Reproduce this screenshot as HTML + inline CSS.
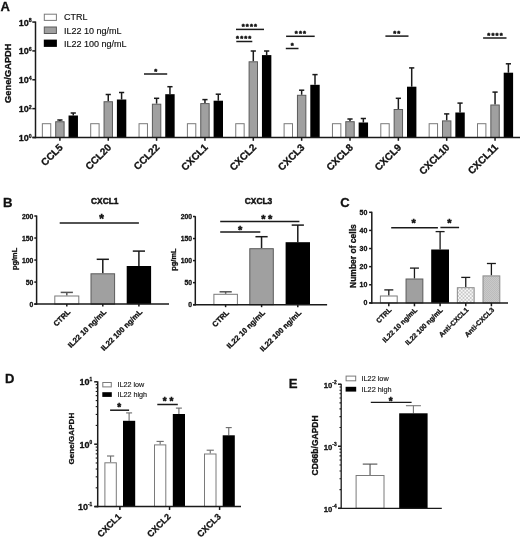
<!DOCTYPE html>
<html><head><meta charset="utf-8"><title>Figure</title>
<style>
html,body{margin:0;padding:0;background:#fff;width:520px;height:540px;overflow:hidden}
svg{display:block}
text{font-family:"Liberation Sans",Arial,sans-serif}
</style></head><body>
<svg width="520" height="540" viewBox="0 0 520 540">
<defs>
<pattern id="chk" width="3.6" height="3.6" patternUnits="userSpaceOnUse">
<rect width="3.6" height="3.6" fill="#f8f8f8"/><rect width="1.8" height="1.8" fill="#c8c8c8"/><rect x="1.8" y="1.8" width="1.8" height="1.8" fill="#c8c8c8"/>
</pattern>
<pattern id="lg" width="2" height="2" patternUnits="userSpaceOnUse">
<rect width="2" height="2" fill="#c9c9c9"/><rect width="1" height="1" fill="#bcbcbc"/><rect x="1" y="1" width="1" height="1" fill="#bcbcbc"/>
</pattern>
</defs>
<rect width="520" height="540" fill="#fff"/>
<text x="0.60" y="11.20" font-size="13" font-weight="bold" text-anchor="start" fill="#111" stroke="#111" stroke-width="0.3">A</text>
<line x1="32.30" y1="137.50" x2="35.50" y2="137.50" stroke="#1a1a1a" stroke-width="1.5"/>
<text x="31.60" y="141.00" font-size="9" font-weight="bold" text-anchor="end" fill="#111" stroke="#111" stroke-width="0.3">10<tspan font-size="5.2" dy="-3.4">0</tspan></text>
<line x1="32.30" y1="108.64" x2="35.50" y2="108.64" stroke="#1a1a1a" stroke-width="1.5"/>
<text x="31.60" y="112.14" font-size="9" font-weight="bold" text-anchor="end" fill="#111" stroke="#111" stroke-width="0.3">10<tspan font-size="5.2" dy="-3.4">2</tspan></text>
<line x1="32.30" y1="79.78" x2="35.50" y2="79.78" stroke="#1a1a1a" stroke-width="1.5"/>
<text x="31.60" y="83.28" font-size="9" font-weight="bold" text-anchor="end" fill="#111" stroke="#111" stroke-width="0.3">10<tspan font-size="5.2" dy="-3.4">4</tspan></text>
<line x1="32.30" y1="50.92" x2="35.50" y2="50.92" stroke="#1a1a1a" stroke-width="1.5"/>
<text x="31.60" y="54.42" font-size="9" font-weight="bold" text-anchor="end" fill="#111" stroke="#111" stroke-width="0.3">10<tspan font-size="5.2" dy="-3.4">6</tspan></text>
<line x1="32.30" y1="22.06" x2="35.50" y2="22.06" stroke="#1a1a1a" stroke-width="1.5"/>
<text x="31.60" y="25.56" font-size="9" font-weight="bold" text-anchor="end" fill="#111" stroke="#111" stroke-width="0.3">10<tspan font-size="5.2" dy="-3.4">8</tspan></text>
<text x="10.90" y="73.20" font-size="9.3" font-weight="bold" text-anchor="middle" fill="#111" stroke="#111" stroke-width="0.3" transform="rotate(-90 10.90 73.20)">Gene/GAPDH</text>
<rect x="44.30" y="14.20" width="12.10" height="6.20" fill="#fff" stroke="#7a7a7a" stroke-width="1"/>
<rect x="44.30" y="27.00" width="12.10" height="6.50" fill="#a0a0a0" stroke="#5a5a5a" stroke-width="1"/>
<rect x="43.80" y="39.60" width="13.10" height="7.30" fill="#000"/>
<text x="64.00" y="20.40" font-size="9" font-weight="normal" text-anchor="start" fill="#111" stroke="#111" stroke-width="0.15">CTRL</text>
<text x="64.00" y="33.50" font-size="9" font-weight="normal" text-anchor="start" fill="#111" stroke="#111" stroke-width="0.15">IL22 10 ng/mL</text>
<text x="64.00" y="46.60" font-size="9" font-weight="normal" text-anchor="start" fill="#111" stroke="#111" stroke-width="0.15">IL22 100 ng/mL</text>
<rect x="42.35" y="123.70" width="8.40" height="13.80" fill="#fff" stroke="#7a7a7a" stroke-width="1"/>
<line x1="59.90" y1="121.25" x2="59.90" y2="120.00" stroke="#1a1a1a" stroke-width="1.5"/>
<line x1="57.30" y1="120.00" x2="62.50" y2="120.00" stroke="#1a1a1a" stroke-width="1.5"/>
<rect x="55.70" y="121.75" width="8.40" height="15.75" fill="#a0a0a0" stroke="#5a5a5a" stroke-width="1"/>
<line x1="73.25" y1="115.50" x2="73.25" y2="113.00" stroke="#1a1a1a" stroke-width="1.5"/>
<line x1="70.65" y1="113.00" x2="75.85" y2="113.00" stroke="#1a1a1a" stroke-width="1.5"/>
<rect x="68.55" y="115.50" width="9.40" height="22.00" fill="#000"/>
<line x1="59.90" y1="137.50" x2="59.90" y2="140.80" stroke="#1a1a1a" stroke-width="1.5"/>
<text x="63.50" y="148.00" font-size="10" font-weight="bold" text-anchor="end" fill="#111" stroke="#111" stroke-width="0.3" transform="rotate(-45 63.50 148.00)">CCL5</text>
<rect x="90.70" y="123.70" width="8.40" height="13.80" fill="#fff" stroke="#7a7a7a" stroke-width="1"/>
<line x1="108.25" y1="101.25" x2="108.25" y2="94.50" stroke="#1a1a1a" stroke-width="1.5"/>
<line x1="105.65" y1="94.50" x2="110.85" y2="94.50" stroke="#1a1a1a" stroke-width="1.5"/>
<rect x="104.05" y="101.75" width="8.40" height="35.75" fill="#a0a0a0" stroke="#5a5a5a" stroke-width="1"/>
<line x1="121.60" y1="99.50" x2="121.60" y2="92.50" stroke="#1a1a1a" stroke-width="1.5"/>
<line x1="119.00" y1="92.50" x2="124.20" y2="92.50" stroke="#1a1a1a" stroke-width="1.5"/>
<rect x="116.90" y="99.50" width="9.40" height="38.00" fill="#000"/>
<line x1="108.25" y1="137.50" x2="108.25" y2="140.80" stroke="#1a1a1a" stroke-width="1.5"/>
<text x="111.85" y="148.00" font-size="10" font-weight="bold" text-anchor="end" fill="#111" stroke="#111" stroke-width="0.3" transform="rotate(-45 111.85 148.00)">CCL20</text>
<rect x="139.05" y="123.70" width="8.40" height="13.80" fill="#fff" stroke="#7a7a7a" stroke-width="1"/>
<line x1="156.60" y1="103.70" x2="156.60" y2="98.30" stroke="#1a1a1a" stroke-width="1.5"/>
<line x1="154.00" y1="98.30" x2="159.20" y2="98.30" stroke="#1a1a1a" stroke-width="1.5"/>
<rect x="152.40" y="104.20" width="8.40" height="33.30" fill="#a0a0a0" stroke="#5a5a5a" stroke-width="1"/>
<line x1="169.95" y1="94.20" x2="169.95" y2="86.70" stroke="#1a1a1a" stroke-width="1.5"/>
<line x1="167.35" y1="86.70" x2="172.55" y2="86.70" stroke="#1a1a1a" stroke-width="1.5"/>
<rect x="165.25" y="94.20" width="9.40" height="43.30" fill="#000"/>
<line x1="156.60" y1="137.50" x2="156.60" y2="140.80" stroke="#1a1a1a" stroke-width="1.5"/>
<text x="160.20" y="148.00" font-size="10" font-weight="bold" text-anchor="end" fill="#111" stroke="#111" stroke-width="0.3" transform="rotate(-45 160.20 148.00)">CCL22</text>
<rect x="187.40" y="123.70" width="8.40" height="13.80" fill="#fff" stroke="#7a7a7a" stroke-width="1"/>
<line x1="204.95" y1="103.10" x2="204.95" y2="99.60" stroke="#1a1a1a" stroke-width="1.5"/>
<line x1="202.35" y1="99.60" x2="207.55" y2="99.60" stroke="#1a1a1a" stroke-width="1.5"/>
<rect x="200.75" y="103.60" width="8.40" height="33.90" fill="#a0a0a0" stroke="#5a5a5a" stroke-width="1"/>
<line x1="218.30" y1="100.70" x2="218.30" y2="94.20" stroke="#1a1a1a" stroke-width="1.5"/>
<line x1="215.70" y1="94.20" x2="220.90" y2="94.20" stroke="#1a1a1a" stroke-width="1.5"/>
<rect x="213.60" y="100.70" width="9.40" height="36.80" fill="#000"/>
<line x1="204.95" y1="137.50" x2="204.95" y2="140.80" stroke="#1a1a1a" stroke-width="1.5"/>
<text x="208.55" y="148.00" font-size="10" font-weight="bold" text-anchor="end" fill="#111" stroke="#111" stroke-width="0.3" transform="rotate(-45 208.55 148.00)">CXCL1</text>
<rect x="235.75" y="123.70" width="8.40" height="13.80" fill="#fff" stroke="#7a7a7a" stroke-width="1"/>
<line x1="253.30" y1="61.30" x2="253.30" y2="51.00" stroke="#1a1a1a" stroke-width="1.5"/>
<line x1="250.70" y1="51.00" x2="255.90" y2="51.00" stroke="#1a1a1a" stroke-width="1.5"/>
<rect x="249.10" y="61.80" width="8.40" height="75.70" fill="#a0a0a0" stroke="#5a5a5a" stroke-width="1"/>
<line x1="266.65" y1="55.10" x2="266.65" y2="51.00" stroke="#1a1a1a" stroke-width="1.5"/>
<line x1="264.05" y1="51.00" x2="269.25" y2="51.00" stroke="#1a1a1a" stroke-width="1.5"/>
<rect x="261.95" y="55.10" width="9.40" height="82.40" fill="#000"/>
<line x1="253.30" y1="137.50" x2="253.30" y2="140.80" stroke="#1a1a1a" stroke-width="1.5"/>
<text x="256.90" y="148.00" font-size="10" font-weight="bold" text-anchor="end" fill="#111" stroke="#111" stroke-width="0.3" transform="rotate(-45 256.90 148.00)">CXCL2</text>
<rect x="284.10" y="123.70" width="8.40" height="13.80" fill="#fff" stroke="#7a7a7a" stroke-width="1"/>
<line x1="301.65" y1="94.80" x2="301.65" y2="90.20" stroke="#1a1a1a" stroke-width="1.5"/>
<line x1="299.05" y1="90.20" x2="304.25" y2="90.20" stroke="#1a1a1a" stroke-width="1.5"/>
<rect x="297.45" y="95.30" width="8.40" height="42.20" fill="#a0a0a0" stroke="#5a5a5a" stroke-width="1"/>
<line x1="315.00" y1="84.80" x2="315.00" y2="74.60" stroke="#1a1a1a" stroke-width="1.5"/>
<line x1="312.40" y1="74.60" x2="317.60" y2="74.60" stroke="#1a1a1a" stroke-width="1.5"/>
<rect x="310.30" y="84.80" width="9.40" height="52.70" fill="#000"/>
<line x1="301.65" y1="137.50" x2="301.65" y2="140.80" stroke="#1a1a1a" stroke-width="1.5"/>
<text x="305.25" y="148.00" font-size="10" font-weight="bold" text-anchor="end" fill="#111" stroke="#111" stroke-width="0.3" transform="rotate(-45 305.25 148.00)">CXCL3</text>
<rect x="332.45" y="123.70" width="8.40" height="13.80" fill="#fff" stroke="#7a7a7a" stroke-width="1"/>
<line x1="350.00" y1="121.20" x2="350.00" y2="119.00" stroke="#1a1a1a" stroke-width="1.5"/>
<line x1="347.40" y1="119.00" x2="352.60" y2="119.00" stroke="#1a1a1a" stroke-width="1.5"/>
<rect x="345.80" y="121.70" width="8.40" height="15.80" fill="#a0a0a0" stroke="#5a5a5a" stroke-width="1"/>
<line x1="363.35" y1="122.50" x2="363.35" y2="118.50" stroke="#1a1a1a" stroke-width="1.5"/>
<line x1="360.75" y1="118.50" x2="365.95" y2="118.50" stroke="#1a1a1a" stroke-width="1.5"/>
<rect x="358.65" y="122.50" width="9.40" height="15.00" fill="#000"/>
<line x1="350.00" y1="137.50" x2="350.00" y2="140.80" stroke="#1a1a1a" stroke-width="1.5"/>
<text x="353.60" y="148.00" font-size="10" font-weight="bold" text-anchor="end" fill="#111" stroke="#111" stroke-width="0.3" transform="rotate(-45 353.60 148.00)">CXCL8</text>
<rect x="380.80" y="123.70" width="8.40" height="13.80" fill="#fff" stroke="#7a7a7a" stroke-width="1"/>
<line x1="398.35" y1="109.00" x2="398.35" y2="98.30" stroke="#1a1a1a" stroke-width="1.5"/>
<line x1="395.75" y1="98.30" x2="400.95" y2="98.30" stroke="#1a1a1a" stroke-width="1.5"/>
<rect x="394.15" y="109.50" width="8.40" height="28.00" fill="#a0a0a0" stroke="#5a5a5a" stroke-width="1"/>
<line x1="411.70" y1="86.70" x2="411.70" y2="67.90" stroke="#1a1a1a" stroke-width="1.5"/>
<line x1="409.10" y1="67.90" x2="414.30" y2="67.90" stroke="#1a1a1a" stroke-width="1.5"/>
<rect x="407.00" y="86.70" width="9.40" height="50.80" fill="#000"/>
<line x1="398.35" y1="137.50" x2="398.35" y2="140.80" stroke="#1a1a1a" stroke-width="1.5"/>
<text x="401.95" y="148.00" font-size="10" font-weight="bold" text-anchor="end" fill="#111" stroke="#111" stroke-width="0.3" transform="rotate(-45 401.95 148.00)">CXCL9</text>
<rect x="429.15" y="123.70" width="8.40" height="13.80" fill="#fff" stroke="#7a7a7a" stroke-width="1"/>
<line x1="446.70" y1="120.40" x2="446.70" y2="113.90" stroke="#1a1a1a" stroke-width="1.5"/>
<line x1="444.10" y1="113.90" x2="449.30" y2="113.90" stroke="#1a1a1a" stroke-width="1.5"/>
<rect x="442.50" y="120.90" width="8.40" height="16.60" fill="#a0a0a0" stroke="#5a5a5a" stroke-width="1"/>
<line x1="460.05" y1="112.50" x2="460.05" y2="103.10" stroke="#1a1a1a" stroke-width="1.5"/>
<line x1="457.45" y1="103.10" x2="462.65" y2="103.10" stroke="#1a1a1a" stroke-width="1.5"/>
<rect x="455.35" y="112.50" width="9.40" height="25.00" fill="#000"/>
<line x1="446.70" y1="137.50" x2="446.70" y2="140.80" stroke="#1a1a1a" stroke-width="1.5"/>
<text x="450.30" y="148.00" font-size="10" font-weight="bold" text-anchor="end" fill="#111" stroke="#111" stroke-width="0.3" transform="rotate(-45 450.30 148.00)">CXCL10</text>
<rect x="477.50" y="123.70" width="8.40" height="13.80" fill="#fff" stroke="#7a7a7a" stroke-width="1"/>
<line x1="495.05" y1="104.50" x2="495.05" y2="92.10" stroke="#1a1a1a" stroke-width="1.5"/>
<line x1="492.45" y1="92.10" x2="497.65" y2="92.10" stroke="#1a1a1a" stroke-width="1.5"/>
<rect x="490.85" y="105.00" width="8.40" height="32.50" fill="#a0a0a0" stroke="#5a5a5a" stroke-width="1"/>
<line x1="508.40" y1="72.70" x2="508.40" y2="63.80" stroke="#1a1a1a" stroke-width="1.5"/>
<line x1="505.80" y1="63.80" x2="511.00" y2="63.80" stroke="#1a1a1a" stroke-width="1.5"/>
<rect x="503.70" y="72.70" width="9.40" height="64.80" fill="#000"/>
<line x1="495.05" y1="137.50" x2="495.05" y2="140.80" stroke="#1a1a1a" stroke-width="1.5"/>
<text x="498.65" y="148.00" font-size="10" font-weight="bold" text-anchor="end" fill="#111" stroke="#111" stroke-width="0.3" transform="rotate(-45 498.65 148.00)">CXCL11</text>
<line x1="144.00" y1="74.00" x2="167.20" y2="74.00" stroke="#1a1a1a" stroke-width="1.5"/>
<text x="156.38" y="73.82" font-size="7.6" font-weight="bold" text-anchor="middle" fill="#111" stroke="#111" stroke-width="0.5" letter-spacing="1.15">*</text>
<line x1="236.00" y1="29.40" x2="264.00" y2="29.40" stroke="#1a1a1a" stroke-width="1.5"/>
<text x="249.97" y="28.82" font-size="7.6" font-weight="bold" text-anchor="middle" fill="#111" stroke="#111" stroke-width="0.5" letter-spacing="1.15">****</text>
<line x1="236.30" y1="41.50" x2="252.30" y2="41.50" stroke="#1a1a1a" stroke-width="1.5"/>
<text x="244.27" y="40.82" font-size="7.6" font-weight="bold" text-anchor="middle" fill="#111" stroke="#111" stroke-width="0.5" letter-spacing="1.15">****</text>
<line x1="286.10" y1="36.30" x2="314.70" y2="36.30" stroke="#1a1a1a" stroke-width="1.5"/>
<text x="300.97" y="36.12" font-size="7.6" font-weight="bold" text-anchor="middle" fill="#111" stroke="#111" stroke-width="0.5" letter-spacing="1.15">***</text>
<line x1="285.80" y1="48.50" x2="298.50" y2="48.50" stroke="#1a1a1a" stroke-width="1.5"/>
<text x="292.88" y="47.62" font-size="7.6" font-weight="bold" text-anchor="middle" fill="#111" stroke="#111" stroke-width="0.5" letter-spacing="1.15">*</text>
<line x1="385.40" y1="36.10" x2="408.50" y2="36.10" stroke="#1a1a1a" stroke-width="1.5"/>
<text x="397.27" y="35.62" font-size="7.6" font-weight="bold" text-anchor="middle" fill="#111" stroke="#111" stroke-width="0.5" letter-spacing="1.15">**</text>
<line x1="483.10" y1="38.00" x2="506.50" y2="38.00" stroke="#1a1a1a" stroke-width="1.5"/>
<text x="495.57" y="38.32" font-size="7.6" font-weight="bold" text-anchor="middle" fill="#111" stroke="#111" stroke-width="0.5" letter-spacing="1.15">****</text>
<text x="3.00" y="206.60" font-size="13.2" font-weight="bold" text-anchor="start" fill="#111" stroke="#111" stroke-width="0.3">B</text>
<line x1="34.30" y1="304.10" x2="36.60" y2="304.10" stroke="#1a1a1a" stroke-width="1.5"/>
<text x="33.30" y="306.60" font-size="6.8" font-weight="bold" text-anchor="end" fill="#111" stroke="#111" stroke-width="0.3">0</text>
<line x1="34.30" y1="282.08" x2="36.60" y2="282.08" stroke="#1a1a1a" stroke-width="1.5"/>
<text x="33.30" y="284.58" font-size="6.8" font-weight="bold" text-anchor="end" fill="#111" stroke="#111" stroke-width="0.3">50</text>
<line x1="34.30" y1="260.05" x2="36.60" y2="260.05" stroke="#1a1a1a" stroke-width="1.5"/>
<text x="33.30" y="262.55" font-size="6.8" font-weight="bold" text-anchor="end" fill="#111" stroke="#111" stroke-width="0.3">100</text>
<line x1="34.30" y1="238.03" x2="36.60" y2="238.03" stroke="#1a1a1a" stroke-width="1.5"/>
<text x="33.30" y="240.53" font-size="6.8" font-weight="bold" text-anchor="end" fill="#111" stroke="#111" stroke-width="0.3">150</text>
<line x1="34.30" y1="216.00" x2="36.60" y2="216.00" stroke="#1a1a1a" stroke-width="1.5"/>
<text x="33.30" y="218.50" font-size="6.8" font-weight="bold" text-anchor="end" fill="#111" stroke="#111" stroke-width="0.3">200</text>
<text x="104.80" y="203.90" font-size="8.4" font-weight="bold" text-anchor="middle" fill="#111" stroke="#111" stroke-width="0.45">CXCL1</text>
<line x1="66.80" y1="295.50" x2="66.80" y2="292.40" stroke="#555" stroke-width="1.5"/>
<line x1="60.70" y1="292.40" x2="72.90" y2="292.40" stroke="#555" stroke-width="1.5"/>
<rect x="54.80" y="296.00" width="24.00" height="8.10" fill="#fff" stroke="#7a7a7a" stroke-width="1"/>
<line x1="102.80" y1="273.30" x2="102.80" y2="259.30" stroke="#1a1a1a" stroke-width="1.5"/>
<line x1="96.70" y1="259.30" x2="108.90" y2="259.30" stroke="#1a1a1a" stroke-width="1.5"/>
<rect x="91.00" y="273.80" width="23.60" height="30.30" fill="#a0a0a0" stroke="#5a5a5a" stroke-width="1"/>
<line x1="138.90" y1="266.00" x2="138.90" y2="251.10" stroke="#1a1a1a" stroke-width="1.5"/>
<line x1="132.80" y1="251.10" x2="145.00" y2="251.10" stroke="#1a1a1a" stroke-width="1.5"/>
<rect x="126.70" y="266.00" width="24.40" height="38.10" fill="#000"/>
<line x1="66.80" y1="304.10" x2="66.80" y2="306.60" stroke="#1a1a1a" stroke-width="1.5"/>
<text x="70.80" y="312.50" font-size="7.6" font-weight="bold" text-anchor="end" fill="#111" stroke="#111" stroke-width="0.3" transform="rotate(-45 70.80 312.50)">CTRL</text>
<line x1="102.80" y1="304.10" x2="102.80" y2="306.60" stroke="#1a1a1a" stroke-width="1.5"/>
<text x="106.80" y="312.50" font-size="7.6" font-weight="bold" text-anchor="end" fill="#111" stroke="#111" stroke-width="0.3" transform="rotate(-45 106.80 312.50)">IL22 10 ng/mL</text>
<line x1="138.90" y1="304.10" x2="138.90" y2="306.60" stroke="#1a1a1a" stroke-width="1.5"/>
<text x="142.90" y="312.50" font-size="7.6" font-weight="bold" text-anchor="end" fill="#111" stroke="#111" stroke-width="0.3" transform="rotate(-45 142.90 312.50)">IL22 100 ng/mL</text>
<text transform="translate(16.6 258.9) rotate(-90) scale(1 0.92)" font-size="7.4" font-weight="bold" text-anchor="middle" fill="#111" stroke="#111" stroke-width="0.3">pg/mL</text>
<line x1="59.70" y1="223.00" x2="138.90" y2="223.00" stroke="#1a1a1a" stroke-width="1.5"/>
<text x="101.50" y="223.42" font-size="12" font-weight="bold" text-anchor="middle" fill="#111" stroke="#111" stroke-width="0.5">*</text>
<line x1="193.00" y1="304.70" x2="195.30" y2="304.70" stroke="#1a1a1a" stroke-width="1.5"/>
<text x="192.00" y="307.20" font-size="6.8" font-weight="bold" text-anchor="end" fill="#111" stroke="#111" stroke-width="0.3">0</text>
<line x1="193.00" y1="282.65" x2="195.30" y2="282.65" stroke="#1a1a1a" stroke-width="1.5"/>
<text x="192.00" y="285.15" font-size="6.8" font-weight="bold" text-anchor="end" fill="#111" stroke="#111" stroke-width="0.3">50</text>
<line x1="193.00" y1="260.60" x2="195.30" y2="260.60" stroke="#1a1a1a" stroke-width="1.5"/>
<text x="192.00" y="263.10" font-size="6.8" font-weight="bold" text-anchor="end" fill="#111" stroke="#111" stroke-width="0.3">100</text>
<line x1="193.00" y1="238.55" x2="195.30" y2="238.55" stroke="#1a1a1a" stroke-width="1.5"/>
<text x="192.00" y="241.05" font-size="6.8" font-weight="bold" text-anchor="end" fill="#111" stroke="#111" stroke-width="0.3">150</text>
<line x1="193.00" y1="216.50" x2="195.30" y2="216.50" stroke="#1a1a1a" stroke-width="1.5"/>
<text x="192.00" y="219.00" font-size="6.8" font-weight="bold" text-anchor="end" fill="#111" stroke="#111" stroke-width="0.3">200</text>
<text x="258.50" y="203.90" font-size="8.4" font-weight="bold" text-anchor="middle" fill="#111" stroke="#111" stroke-width="0.45">CXCL3</text>
<line x1="225.65" y1="293.80" x2="225.65" y2="291.80" stroke="#555" stroke-width="1.5"/>
<line x1="219.55" y1="291.80" x2="231.75" y2="291.80" stroke="#555" stroke-width="1.5"/>
<rect x="213.90" y="294.30" width="23.50" height="10.40" fill="#fff" stroke="#7a7a7a" stroke-width="1"/>
<line x1="261.55" y1="248.20" x2="261.55" y2="236.70" stroke="#1a1a1a" stroke-width="1.5"/>
<line x1="255.45" y1="236.70" x2="267.65" y2="236.70" stroke="#1a1a1a" stroke-width="1.5"/>
<rect x="249.80" y="248.70" width="23.50" height="56.00" fill="#a0a0a0" stroke="#5a5a5a" stroke-width="1"/>
<line x1="297.80" y1="242.20" x2="297.80" y2="225.10" stroke="#1a1a1a" stroke-width="1.5"/>
<line x1="291.70" y1="225.10" x2="303.90" y2="225.10" stroke="#1a1a1a" stroke-width="1.5"/>
<rect x="285.60" y="242.20" width="24.40" height="62.50" fill="#000"/>
<line x1="225.60" y1="304.70" x2="225.60" y2="307.20" stroke="#1a1a1a" stroke-width="1.5"/>
<text x="229.60" y="313.10" font-size="7.6" font-weight="bold" text-anchor="end" fill="#111" stroke="#111" stroke-width="0.3" transform="rotate(-45 229.60 313.10)">CTRL</text>
<line x1="261.60" y1="304.70" x2="261.60" y2="307.20" stroke="#1a1a1a" stroke-width="1.5"/>
<text x="265.60" y="313.10" font-size="7.6" font-weight="bold" text-anchor="end" fill="#111" stroke="#111" stroke-width="0.3" transform="rotate(-45 265.60 313.10)">IL22 10 ng/mL</text>
<line x1="297.80" y1="304.70" x2="297.80" y2="307.20" stroke="#1a1a1a" stroke-width="1.5"/>
<text x="301.80" y="313.10" font-size="7.6" font-weight="bold" text-anchor="end" fill="#111" stroke="#111" stroke-width="0.3" transform="rotate(-45 301.80 313.10)">IL22 100 ng/mL</text>
<text transform="translate(176.3 259.6) rotate(-90) scale(1 0.92)" font-size="7.4" font-weight="bold" text-anchor="middle" fill="#111" stroke="#111" stroke-width="0.3">pg/mL</text>
<line x1="220.20" y1="221.60" x2="299.40" y2="221.60" stroke="#1a1a1a" stroke-width="1.5"/>
<text x="267.90" y="223.02" font-size="11" font-weight="bold" text-anchor="middle" fill="#111" stroke="#111" stroke-width="0.5" letter-spacing="2.4">**</text>
<line x1="220.20" y1="231.90" x2="260.30" y2="231.90" stroke="#1a1a1a" stroke-width="1.5"/>
<text x="240.10" y="234.22" font-size="11" font-weight="bold" text-anchor="middle" fill="#111" stroke="#111" stroke-width="0.5">*</text>
<text x="340.30" y="206.80" font-size="13" font-weight="bold" text-anchor="start" fill="#111" stroke="#111" stroke-width="0.3">C</text>
<line x1="369.10" y1="302.90" x2="371.80" y2="302.90" stroke="#1a1a1a" stroke-width="1.5"/>
<text x="367.30" y="305.40" font-size="7.0" font-weight="bold" text-anchor="end" fill="#111" stroke="#111" stroke-width="0.3">0</text>
<line x1="369.10" y1="284.78" x2="371.80" y2="284.78" stroke="#1a1a1a" stroke-width="1.5"/>
<text x="367.30" y="287.28" font-size="7.0" font-weight="bold" text-anchor="end" fill="#111" stroke="#111" stroke-width="0.3">10</text>
<line x1="369.10" y1="266.66" x2="371.80" y2="266.66" stroke="#1a1a1a" stroke-width="1.5"/>
<text x="367.30" y="269.16" font-size="7.0" font-weight="bold" text-anchor="end" fill="#111" stroke="#111" stroke-width="0.3">20</text>
<line x1="369.10" y1="248.54" x2="371.80" y2="248.54" stroke="#1a1a1a" stroke-width="1.5"/>
<text x="367.30" y="251.04" font-size="7.0" font-weight="bold" text-anchor="end" fill="#111" stroke="#111" stroke-width="0.3">30</text>
<line x1="369.10" y1="230.42" x2="371.80" y2="230.42" stroke="#1a1a1a" stroke-width="1.5"/>
<text x="367.30" y="232.92" font-size="7.0" font-weight="bold" text-anchor="end" fill="#111" stroke="#111" stroke-width="0.3">40</text>
<line x1="369.10" y1="212.30" x2="371.80" y2="212.30" stroke="#1a1a1a" stroke-width="1.5"/>
<text x="367.30" y="214.80" font-size="7.0" font-weight="bold" text-anchor="end" fill="#111" stroke="#111" stroke-width="0.3">50</text>
<text x="355.80" y="256.10" font-size="8.5" font-weight="bold" text-anchor="middle" fill="#111" stroke="#111" stroke-width="0.3" transform="rotate(-90 355.80 256.10)">Number of cells</text>
<line x1="388.80" y1="295.50" x2="388.80" y2="289.90" stroke="#1a1a1a" stroke-width="1.3"/>
<line x1="384.30" y1="289.90" x2="393.30" y2="289.90" stroke="#1a1a1a" stroke-width="1.3"/>
<rect x="380.40" y="296.00" width="16.80" height="6.90" fill="#fff" stroke="#7a7a7a" stroke-width="1"/>
<line x1="388.80" y1="302.90" x2="388.80" y2="306.30" stroke="#1a1a1a" stroke-width="1.5"/>
<text x="392.00" y="310.40" font-size="6.9" font-weight="bold" text-anchor="end" fill="#111" stroke="#111" stroke-width="0.3" transform="rotate(-45 392.00 310.40)">CTRL</text>
<line x1="414.45" y1="278.50" x2="414.45" y2="268.10" stroke="#1a1a1a" stroke-width="1.3"/>
<line x1="409.95" y1="268.10" x2="418.95" y2="268.10" stroke="#1a1a1a" stroke-width="1.3"/>
<rect x="406.05" y="279.00" width="16.80" height="23.90" fill="#a0a0a0" stroke="#5a5a5a" stroke-width="1"/>
<line x1="414.45" y1="302.90" x2="414.45" y2="306.30" stroke="#1a1a1a" stroke-width="1.5"/>
<text x="417.65" y="310.40" font-size="6.9" font-weight="bold" text-anchor="end" fill="#111" stroke="#111" stroke-width="0.3" transform="rotate(-45 417.65 310.40)">IL22 10 ng/mL</text>
<line x1="440.10" y1="249.50" x2="440.10" y2="231.60" stroke="#1a1a1a" stroke-width="1.3"/>
<line x1="435.60" y1="231.60" x2="444.60" y2="231.60" stroke="#1a1a1a" stroke-width="1.3"/>
<rect x="431.20" y="249.50" width="17.80" height="53.40" fill="#000"/>
<line x1="440.10" y1="302.90" x2="440.10" y2="306.30" stroke="#1a1a1a" stroke-width="1.5"/>
<text x="443.30" y="310.40" font-size="6.9" font-weight="bold" text-anchor="end" fill="#111" stroke="#111" stroke-width="0.3" transform="rotate(-45 443.30 310.40)">IL22 100 ng/mL</text>
<line x1="465.75" y1="287.20" x2="465.75" y2="277.40" stroke="#1a1a1a" stroke-width="1.3"/>
<line x1="461.25" y1="277.40" x2="470.25" y2="277.40" stroke="#1a1a1a" stroke-width="1.3"/>
<rect x="457.35" y="287.70" width="16.80" height="15.20" fill="url(#chk)" stroke="#8a8a8a" stroke-width="1"/>
<line x1="465.75" y1="302.90" x2="465.75" y2="306.30" stroke="#1a1a1a" stroke-width="1.5"/>
<text x="468.95" y="310.40" font-size="6.9" font-weight="bold" text-anchor="end" fill="#111" stroke="#111" stroke-width="0.3" transform="rotate(-45 468.95 310.40)">Anti-CXCL1</text>
<line x1="491.40" y1="275.40" x2="491.40" y2="263.50" stroke="#1a1a1a" stroke-width="1.3"/>
<line x1="486.90" y1="263.50" x2="495.90" y2="263.50" stroke="#1a1a1a" stroke-width="1.3"/>
<rect x="483.00" y="275.90" width="16.80" height="27.00" fill="url(#lg)" stroke="#8a8a8a" stroke-width="1"/>
<line x1="491.40" y1="302.90" x2="491.40" y2="306.30" stroke="#1a1a1a" stroke-width="1.5"/>
<text x="494.60" y="310.40" font-size="6.9" font-weight="bold" text-anchor="end" fill="#111" stroke="#111" stroke-width="0.3" transform="rotate(-45 494.60 310.40)">Anti-CXCL3</text>
<line x1="391.20" y1="227.70" x2="437.90" y2="227.70" stroke="#1a1a1a" stroke-width="1.5"/>
<text x="413.70" y="227.22" font-size="11" font-weight="bold" text-anchor="middle" fill="#111" stroke="#111" stroke-width="0.5">*</text>
<line x1="440.40" y1="227.50" x2="459.10" y2="227.50" stroke="#1a1a1a" stroke-width="1.5"/>
<text x="449.50" y="226.92" font-size="11" font-weight="bold" text-anchor="middle" fill="#111" stroke="#111" stroke-width="0.5">*</text>
<text x="5.00" y="383.00" font-size="13" font-weight="bold" text-anchor="start" fill="#111" stroke="#111" stroke-width="0.3">D</text>
<line x1="94.20" y1="381.80" x2="97.40" y2="381.80" stroke="#1a1a1a" stroke-width="1.5"/>
<text x="92.20" y="385.40" font-size="9" font-weight="bold" text-anchor="end" fill="#111" stroke="#111" stroke-width="0.3">10<tspan font-size="4.8" dy="-4.3">1</tspan></text>
<line x1="94.20" y1="444.20" x2="97.40" y2="444.20" stroke="#1a1a1a" stroke-width="1.5"/>
<text x="92.20" y="447.80" font-size="9" font-weight="bold" text-anchor="end" fill="#111" stroke="#111" stroke-width="0.3">10<tspan font-size="4.8" dy="-4.3">0</tspan></text>
<line x1="94.20" y1="506.60" x2="97.40" y2="506.60" stroke="#1a1a1a" stroke-width="1.5"/>
<text x="92.20" y="510.20" font-size="9" font-weight="bold" text-anchor="end" fill="#111" stroke="#111" stroke-width="0.3">10<tspan font-size="4.8" dy="-4.3">-1</tspan></text>
<line x1="95.70" y1="425.42" x2="97.40" y2="425.42" stroke="#1a1a1a" stroke-width="1.1"/>
<line x1="95.70" y1="414.43" x2="97.40" y2="414.43" stroke="#1a1a1a" stroke-width="1.1"/>
<line x1="95.70" y1="406.63" x2="97.40" y2="406.63" stroke="#1a1a1a" stroke-width="1.1"/>
<line x1="95.70" y1="400.58" x2="97.40" y2="400.58" stroke="#1a1a1a" stroke-width="1.1"/>
<line x1="95.70" y1="395.64" x2="97.40" y2="395.64" stroke="#1a1a1a" stroke-width="1.1"/>
<line x1="95.70" y1="391.47" x2="97.40" y2="391.47" stroke="#1a1a1a" stroke-width="1.1"/>
<line x1="95.70" y1="387.85" x2="97.40" y2="387.85" stroke="#1a1a1a" stroke-width="1.1"/>
<line x1="95.70" y1="384.66" x2="97.40" y2="384.66" stroke="#1a1a1a" stroke-width="1.1"/>
<line x1="95.70" y1="487.82" x2="97.40" y2="487.82" stroke="#1a1a1a" stroke-width="1.1"/>
<line x1="95.70" y1="476.83" x2="97.40" y2="476.83" stroke="#1a1a1a" stroke-width="1.1"/>
<line x1="95.70" y1="469.03" x2="97.40" y2="469.03" stroke="#1a1a1a" stroke-width="1.1"/>
<line x1="95.70" y1="462.98" x2="97.40" y2="462.98" stroke="#1a1a1a" stroke-width="1.1"/>
<line x1="95.70" y1="458.04" x2="97.40" y2="458.04" stroke="#1a1a1a" stroke-width="1.1"/>
<line x1="95.70" y1="453.87" x2="97.40" y2="453.87" stroke="#1a1a1a" stroke-width="1.1"/>
<line x1="95.70" y1="450.25" x2="97.40" y2="450.25" stroke="#1a1a1a" stroke-width="1.1"/>
<line x1="95.70" y1="447.06" x2="97.40" y2="447.06" stroke="#1a1a1a" stroke-width="1.1"/>
<text x="74.10" y="438.60" font-size="8.1" font-weight="bold" text-anchor="middle" fill="#111" stroke="#111" stroke-width="0.3" transform="rotate(-90 74.10 438.60)">Gene/GAPDH</text>
<line x1="110.60" y1="462.30" x2="110.60" y2="456.00" stroke="#6a6a6a" stroke-width="1.1"/>
<line x1="107.00" y1="456.00" x2="114.20" y2="456.00" stroke="#6a6a6a" stroke-width="1.1"/>
<rect x="104.90" y="462.80" width="11.40" height="43.80" fill="#fff" stroke="#7a7a7a" stroke-width="1"/>
<line x1="129.10" y1="420.80" x2="129.10" y2="412.90" stroke="#6a6a6a" stroke-width="1.1"/>
<line x1="126.10" y1="412.90" x2="132.10" y2="412.90" stroke="#6a6a6a" stroke-width="1.1"/>
<rect x="123.00" y="420.80" width="12.20" height="85.80" fill="#000"/>
<line x1="119.90" y1="506.60" x2="119.90" y2="510.00" stroke="#1a1a1a" stroke-width="1.5"/>
<text x="121.70" y="517.20" font-size="8.9" font-weight="bold" text-anchor="end" fill="#111" stroke="#111" stroke-width="0.3" transform="rotate(-45 121.70 517.20)">CXCL1</text>
<line x1="160.15" y1="444.40" x2="160.15" y2="441.40" stroke="#6a6a6a" stroke-width="1.1"/>
<line x1="156.55" y1="441.40" x2="163.75" y2="441.40" stroke="#6a6a6a" stroke-width="1.1"/>
<rect x="154.50" y="444.90" width="11.30" height="61.70" fill="#fff" stroke="#7a7a7a" stroke-width="1"/>
<line x1="178.90" y1="414.00" x2="178.90" y2="408.10" stroke="#6a6a6a" stroke-width="1.1"/>
<line x1="175.90" y1="408.10" x2="181.90" y2="408.10" stroke="#6a6a6a" stroke-width="1.1"/>
<rect x="172.80" y="414.00" width="12.20" height="92.60" fill="#000"/>
<line x1="169.55" y1="506.60" x2="169.55" y2="510.00" stroke="#1a1a1a" stroke-width="1.5"/>
<text x="171.35" y="517.20" font-size="8.9" font-weight="bold" text-anchor="end" fill="#111" stroke="#111" stroke-width="0.3" transform="rotate(-45 171.35 517.20)">CXCL2</text>
<line x1="210.25" y1="453.50" x2="210.25" y2="450.20" stroke="#6a6a6a" stroke-width="1.1"/>
<line x1="206.65" y1="450.20" x2="213.85" y2="450.20" stroke="#6a6a6a" stroke-width="1.1"/>
<rect x="204.50" y="454.00" width="11.50" height="52.60" fill="#fff" stroke="#7a7a7a" stroke-width="1"/>
<line x1="228.75" y1="435.30" x2="228.75" y2="427.60" stroke="#6a6a6a" stroke-width="1.1"/>
<line x1="225.75" y1="427.60" x2="231.75" y2="427.60" stroke="#6a6a6a" stroke-width="1.1"/>
<rect x="222.70" y="435.30" width="12.10" height="71.30" fill="#000"/>
<line x1="219.60" y1="506.60" x2="219.60" y2="510.00" stroke="#1a1a1a" stroke-width="1.5"/>
<text x="221.40" y="517.20" font-size="8.9" font-weight="bold" text-anchor="end" fill="#111" stroke="#111" stroke-width="0.3" transform="rotate(-45 221.40 517.20)">CXCL3</text>
<rect x="102.80" y="382.50" width="8.50" height="4.40" fill="#fff" stroke="#7a7a7a" stroke-width="1"/>
<rect x="102.30" y="392.20" width="9.50" height="4.70" fill="#000"/>
<text x="117.50" y="386.90" font-size="7.2" font-weight="normal" text-anchor="start" fill="#1a1a1a" stroke="#1a1a1a" stroke-width="0.15">IL22 low</text>
<text x="117.50" y="397.30" font-size="7.2" font-weight="normal" text-anchor="start" fill="#1a1a1a" stroke="#1a1a1a" stroke-width="0.15">IL22 high</text>
<line x1="110.10" y1="410.20" x2="129.10" y2="410.20" stroke="#1a1a1a" stroke-width="1.5"/>
<text x="119.20" y="411.22" font-size="10" font-weight="bold" text-anchor="middle" fill="#111" stroke="#111" stroke-width="0.5">*</text>
<line x1="157.30" y1="404.50" x2="177.80" y2="404.50" stroke="#1a1a1a" stroke-width="1.5"/>
<text x="169.55" y="404.62" font-size="10" font-weight="bold" text-anchor="middle" fill="#111" stroke="#111" stroke-width="0.5" letter-spacing="2.9">**</text>
<text x="288.80" y="387.80" font-size="13.2" font-weight="bold" text-anchor="start" fill="#111" stroke="#111" stroke-width="0.3">E</text>
<line x1="338.00" y1="384.20" x2="341.00" y2="384.20" stroke="#1a1a1a" stroke-width="1.5"/>
<text x="336.60" y="388.00" font-size="7.7" font-weight="bold" text-anchor="end" fill="#111" stroke="#111" stroke-width="0.3">10<tspan font-size="4.8" dy="-3.6">-2</tspan></text>
<line x1="338.00" y1="446.25" x2="341.00" y2="446.25" stroke="#1a1a1a" stroke-width="1.5"/>
<text x="336.60" y="450.05" font-size="7.7" font-weight="bold" text-anchor="end" fill="#111" stroke="#111" stroke-width="0.3">10<tspan font-size="4.8" dy="-3.6">-3</tspan></text>
<line x1="338.00" y1="508.30" x2="341.00" y2="508.30" stroke="#1a1a1a" stroke-width="1.5"/>
<text x="336.60" y="512.10" font-size="7.7" font-weight="bold" text-anchor="end" fill="#111" stroke="#111" stroke-width="0.3">10<tspan font-size="4.8" dy="-3.6">-4</tspan></text>
<line x1="339.50" y1="427.57" x2="341.00" y2="427.57" stroke="#1a1a1a" stroke-width="1.1"/>
<line x1="339.50" y1="416.64" x2="341.00" y2="416.64" stroke="#1a1a1a" stroke-width="1.1"/>
<line x1="339.50" y1="408.89" x2="341.00" y2="408.89" stroke="#1a1a1a" stroke-width="1.1"/>
<line x1="339.50" y1="402.88" x2="341.00" y2="402.88" stroke="#1a1a1a" stroke-width="1.1"/>
<line x1="339.50" y1="397.97" x2="341.00" y2="397.97" stroke="#1a1a1a" stroke-width="1.1"/>
<line x1="339.50" y1="393.81" x2="341.00" y2="393.81" stroke="#1a1a1a" stroke-width="1.1"/>
<line x1="339.50" y1="390.21" x2="341.00" y2="390.21" stroke="#1a1a1a" stroke-width="1.1"/>
<line x1="339.50" y1="387.04" x2="341.00" y2="387.04" stroke="#1a1a1a" stroke-width="1.1"/>
<line x1="339.50" y1="489.62" x2="341.00" y2="489.62" stroke="#1a1a1a" stroke-width="1.1"/>
<line x1="339.50" y1="478.69" x2="341.00" y2="478.69" stroke="#1a1a1a" stroke-width="1.1"/>
<line x1="339.50" y1="470.94" x2="341.00" y2="470.94" stroke="#1a1a1a" stroke-width="1.1"/>
<line x1="339.50" y1="464.93" x2="341.00" y2="464.93" stroke="#1a1a1a" stroke-width="1.1"/>
<line x1="339.50" y1="460.02" x2="341.00" y2="460.02" stroke="#1a1a1a" stroke-width="1.1"/>
<line x1="339.50" y1="455.86" x2="341.00" y2="455.86" stroke="#1a1a1a" stroke-width="1.1"/>
<line x1="339.50" y1="452.26" x2="341.00" y2="452.26" stroke="#1a1a1a" stroke-width="1.1"/>
<line x1="339.50" y1="449.09" x2="341.00" y2="449.09" stroke="#1a1a1a" stroke-width="1.1"/>
<text x="317.90" y="445.40" font-size="8.5" font-weight="bold" text-anchor="middle" fill="#111" stroke="#111" stroke-width="0.3" transform="rotate(-90 317.90 445.40)">CD66b/GAPDH</text>
<line x1="370.05" y1="475.00" x2="370.05" y2="464.10" stroke="#555" stroke-width="1.15"/>
<line x1="362.75" y1="464.10" x2="377.35" y2="464.10" stroke="#555" stroke-width="1.15"/>
<rect x="356.10" y="475.50" width="27.90" height="32.80" fill="#fff" stroke="#7a7a7a" stroke-width="1"/>
<line x1="413.40" y1="413.30" x2="413.40" y2="405.70" stroke="#777" stroke-width="1.1"/>
<line x1="405.90" y1="405.70" x2="420.90" y2="405.70" stroke="#777" stroke-width="1.1"/>
<rect x="399.20" y="413.30" width="28.40" height="95.00" fill="#000"/>
<rect x="346.10" y="376.10" width="9.60" height="4.70" fill="#fff" stroke="#7a7a7a" stroke-width="1"/>
<rect x="345.60" y="386.80" width="10.60" height="4.80" fill="#000"/>
<text x="361.50" y="380.90" font-size="7.3" font-weight="normal" text-anchor="start" fill="#1a1a1a" stroke="#1a1a1a" stroke-width="0.15">IL22 low</text>
<text x="361.50" y="392.10" font-size="7.3" font-weight="normal" text-anchor="start" fill="#1a1a1a" stroke="#1a1a1a" stroke-width="0.15">IL22 high</text>
<line x1="370.80" y1="402.40" x2="411.60" y2="402.40" stroke="#1a1a1a" stroke-width="1.3"/>
<text x="390.60" y="404.62" font-size="10" font-weight="bold" text-anchor="middle" fill="#111" stroke="#111" stroke-width="0.5">*</text>
<line x1="35.50" y1="21.50" x2="35.50" y2="138.25" stroke="#1a1a1a" stroke-width="1.5"/>
<line x1="32.50" y1="137.50" x2="520.00" y2="137.50" stroke="#1a1a1a" stroke-width="1.5"/>
<line x1="36.60" y1="215.50" x2="36.60" y2="304.85" stroke="#1a1a1a" stroke-width="1.5"/>
<line x1="34.30" y1="304.10" x2="169.00" y2="304.10" stroke="#1a1a1a" stroke-width="1.5"/>
<line x1="195.30" y1="216.20" x2="195.30" y2="305.45" stroke="#1a1a1a" stroke-width="1.5"/>
<line x1="193.00" y1="304.70" x2="327.10" y2="304.70" stroke="#1a1a1a" stroke-width="1.5"/>
<line x1="371.80" y1="211.80" x2="371.80" y2="303.65" stroke="#1a1a1a" stroke-width="1.5"/>
<line x1="369.30" y1="302.90" x2="508.00" y2="302.90" stroke="#1a1a1a" stroke-width="1.5"/>
<line x1="97.70" y1="381.30" x2="97.70" y2="507.35" stroke="#1a1a1a" stroke-width="1.5"/>
<line x1="94.50" y1="506.60" x2="241.00" y2="506.60" stroke="#1a1a1a" stroke-width="1.5"/>
<line x1="341.20" y1="383.70" x2="341.20" y2="508.95" stroke="#1a1a1a" stroke-width="1.3"/>
<line x1="338.30" y1="508.30" x2="441.80" y2="508.30" stroke="#1a1a1a" stroke-width="1.3"/>
</svg>
</body></html>
